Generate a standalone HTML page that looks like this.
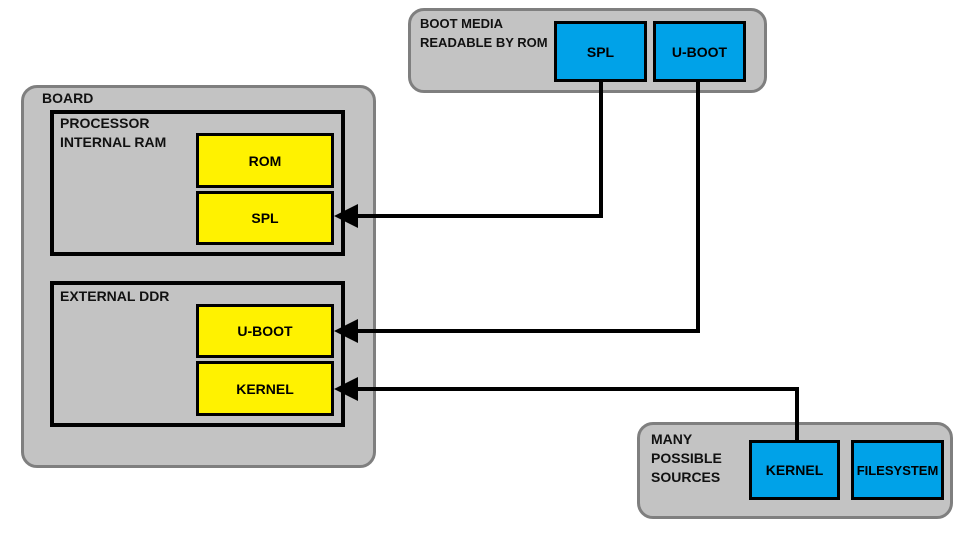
<!DOCTYPE html>
<html><head><style>
body{margin:0;width:960px;height:540px;background:#fff;position:relative;overflow:hidden;font-family:"Liberation Sans",sans-serif;font-weight:bold;font-size:14px;}
.r{position:absolute;box-sizing:border-box;}
.g{background:#c3c3c3;border:3px solid #7f7f7f;border-radius:16px;}
.k{border:4px solid #000;}
.y{background:#fff200;border:3px solid #000;display:flex;align-items:center;justify-content:center;}
.b{background:#00a2e8;border:3px solid #000;display:flex;align-items:center;justify-content:center;}
.t{position:absolute;line-height:19px;color:#111;}
</style></head><body>
<div class="r g" style="left:21px;top:85px;width:355px;height:383px"></div>
<div class="t" style="left:42px;top:89px">BOARD</div>
<div class="r k" style="left:50px;top:110px;width:295px;height:146px"></div>
<div class="t" style="left:60px;top:114px">PROCESSOR<br>INTERNAL RAM</div>
<div class="r y" style="left:196px;top:133px;width:138px;height:55px">ROM</div>
<div class="r y" style="left:196px;top:191px;width:138px;height:54px">SPL</div>
<div class="r k" style="left:50px;top:281px;width:295px;height:146px"></div>
<div class="t" style="left:60px;top:287px">EXTERNAL DDR</div>
<div class="r y" style="left:196px;top:304px;width:138px;height:54px">U-BOOT</div>
<div class="r y" style="left:196px;top:361px;width:138px;height:55px">KERNEL</div>

<div class="r g" style="left:408px;top:8px;width:359px;height:85px"></div>
<div class="t" style="left:420px;top:14px;font-size:13px">BOOT MEDIA<br>READABLE BY ROM</div>
<div class="r b" style="left:554px;top:21px;width:93px;height:61px">SPL</div>
<div class="r b" style="left:653px;top:21px;width:93px;height:61px">U-BOOT</div>

<div class="r g" style="left:637px;top:422px;width:316px;height:97px"></div>
<div class="t" style="left:651px;top:430px">MANY<br>POSSIBLE<br>SOURCES</div>
<div class="r b" style="left:749px;top:440px;width:91px;height:60px">KERNEL</div>
<div class="r b" style="left:851px;top:440px;width:93px;height:60px;font-size:13px">FILESYSTEM</div>

<svg class="r" style="left:0;top:0" width="960" height="540">
<g fill="none" stroke="#000" stroke-width="4">
<polyline points="601,82 601,216 350,216"/>
<polyline points="698,82 698,331 350,331"/>
<polyline points="797,440 797,389 350,389"/>
</g>
<g fill="#000">
<polygon points="334,216 358,204 358,228"/>
<polygon points="334,331 358,319 358,343"/>
<polygon points="334,389 358,377 358,401"/>
</g>
</svg>
</body></html>
